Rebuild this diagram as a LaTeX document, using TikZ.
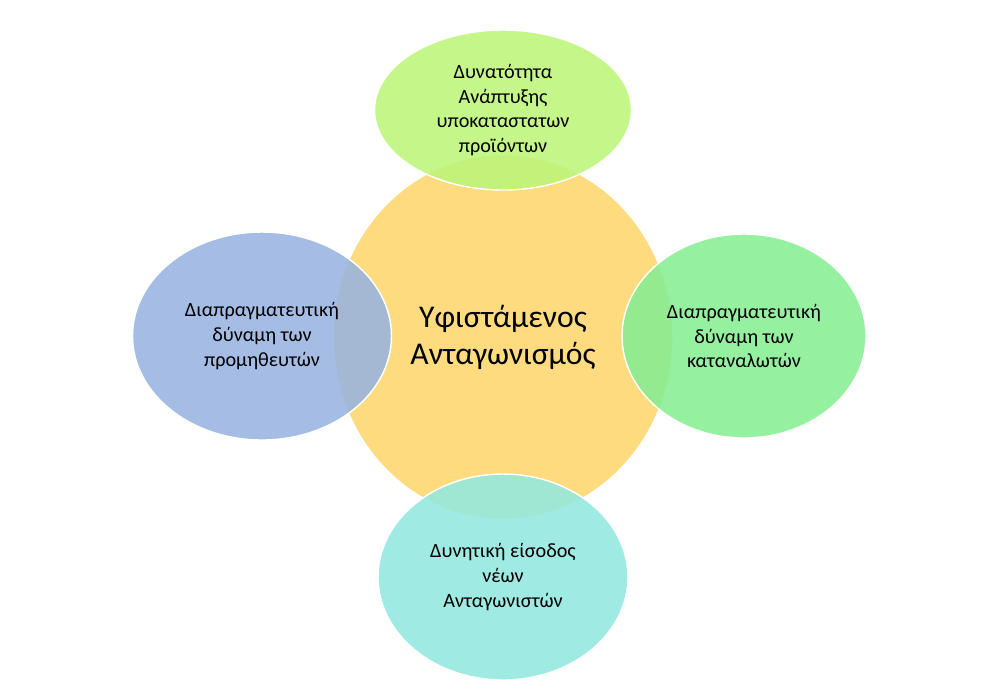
\documentclass[tikz,border=0pt]{standalone}
\usepackage{fontspec}
\setmainfont{Carlito}
\usetikzlibrary{shapes.geometric}
\definecolor{cyellow}{HTML}{FDDB7E}
\definecolor{ctop}{HTML}{BDF57A}
\definecolor{cleft}{HTML}{98B4E0}
\definecolor{cright}{HTML}{86EE92}
\definecolor{cbottom}{HTML}{92E8DF}
\tikzset{
  blob/.style={draw=white, thick, shape=ellipse, inner sep=0pt, align=center,
    fill opacity=0.88, text opacity=1, font={\fontsize{11.5pt}{14pt}\selectfont}}}
\begin{document}
\begin{tikzpicture}[x=0.02cm, y=-0.02cm]
  \useasboundingbox (0,0) rectangle (1000,681);
  \node (core) [blob, fill=cyellow, fill opacity=1, minimum width=6.8cm, minimum height=7.3cm,
    font={\fontsize{18pt}{21pt}\selectfont}] at (503,337) {Υφιστάμενος\\Ανταγωνισμός};
  \node (subst) [blob, fill=ctop, minimum width=5.14cm, minimum height=3.2cm] at (503,110)
    {Δυνατότητα\\Ανάπτυξης\\υποκαταστατων\\προϊόντων};
  \node (suppl) [blob, fill=cleft, minimum width=5.18cm, minimum height=4.16cm] at (262,336)
    {Διαπραγματευτική\\δύναμη των\\προμηθευτών};
  \node (buyer) [blob, fill=cright, minimum width=4.88cm, minimum height=4.08cm] at (744,336)
    {Διαπραγματευτική\\δύναμη των\\καταναλωτών};
  \node (entry) [blob, fill=cbottom, minimum width=5.0cm, minimum height=4.12cm] at (503,577)
    {Δυνητική είσοδος\\νέων\\Ανταγωνιστών};
\end{tikzpicture}
\end{document}
